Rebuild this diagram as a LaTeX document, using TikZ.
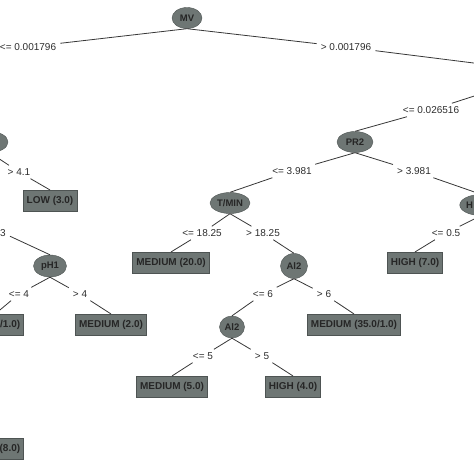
\documentclass[tikz,border=0pt]{standalone}
\usepackage{fontspec}
\setmainfont{Liberation Sans}
\usetikzlibrary{shapes.geometric}
\definecolor{gfill}{RGB}{110,118,116}
\definecolor{gedge}{RGB}{78,84,83}
\definecolor{lnk}{RGB}{55,55,55}
\definecolor{lbltxt}{RGB}{45,45,45}
\tikzset{
  inner/.style={ellipse, fill=gfill, draw=gedge, line width=0.4pt, inner sep=0pt,
    minimum height=21pt, font=\fontsize{9.5}{10}\selectfont\bfseries, text=black!85},
  leaf/.style={rectangle, fill=gfill, draw=gedge, line width=0.6pt, inner xsep=3.5pt,
    inner ysep=0pt, minimum height=21.5pt, font=\fontsize{10}{11}\selectfont\bfseries, text=black!85},
  lbl/.style={inner xsep=4pt, inner ysep=3pt, font=\fontsize{10}{11}\selectfont, text=lbltxt},
  edge/.style={draw=lnk, line width=0.8pt}
}
\begin{document}
\begin{tikzpicture}[x=1pt,y=-1pt]
\useasboundingbox (0,0) rectangle (474,474);
\clip (0,0) rectangle (474,474);
% root
\node[inner, minimum width=30pt] (r) at (187,18) {MV};
\node[lbl] (l1) at (28,47) {<= 0.001796};
\node[lbl] (l2) at (346,47) {> 0.001796};
\coordinate (a) at (-100,75);
\node[inner, minimum width=36pt] (b) at (500,77) {};
\node[lbl] (l3) at (431,110) {<= 0.026516};
\node[inner, minimum width=36pt] (pr2) at (355,142) {PR2};
\node[lbl] (l4) at (292,171) {<= 3.981};
\node[lbl] (l5) at (414,171) {> 3.981};
\node[inner, minimum width=40pt] (tmin) at (230,203) {T/MIN};
\node[inner, minimum width=36pt] (h) at (481,205) {\makebox[30pt][l]{H}};
\node[lbl] (l6) at (202,233) {<= 18.25};
\node[lbl] (l7) at (263,233) {> 18.25};
\node[lbl] (l8) at (446,233) {<= 0.5};
\node[leaf] (m20) at (171,263) {MEDIUM (20.0)};
\node[inner, minimum width=27pt, minimum height=25pt] (al2a) at (294,266) {Al2};
\node[leaf] (h7) at (415,263) {HIGH (7.0)};
\node[lbl] (l9) at (263,294) {<= 6};
\node[lbl] (l10) at (324,294) {> 6};
\node[inner, minimum width=25pt, minimum height=22pt] (al2b) at (232,327) {Al2};
\node[leaf] (m35) at (354,325) {MEDIUM (35.0/1.0)};
\node[lbl] (l11) at (203,356) {<= 5};
\node[lbl] (l12) at (262,356) {> 5};
\node[leaf] (m5) at (172,387) {MEDIUM (5.0)};
\node[leaf] (h4) at (293,387) {HIGH (4.0)};
% left part
\node[inner, minimum width=36pt] (c) at (-10,142) {};
\node[lbl] (l13) at (19,172) {> 4.1};
\node[leaf] (low3) at (50,201) {LOW (3.0)};
\coordinate (d) at (-80,200);
\node[lbl, anchor=east] (l14) at (10,233) {3};
\node[inner, minimum width=33pt, minimum height=22pt] (ph1) at (50,266) {pH1};
\node[lbl] (l15) at (19,294) {<= 4};
\node[lbl] (l16) at (80,294) {> 4};
\node[leaf, anchor=east] (x1) at (24,325) {\makebox[50pt][r]{/1.0)}};
\node[leaf] (m2) at (111,325) {MEDIUM (2.0)};
\node[leaf, anchor=east] (x2) at (24,449) {\makebox[40pt][r]{(8.0)}};
% connectors
\draw[edge] (r.south) -- (l1) (l1) -- (a);
\draw[edge] (r.south) -- (l2) (l2) -- (b.north);
\draw[edge] (b.south) -- (l3) (l3) -- (pr2.north);
\draw[edge] (pr2.south) -- (l4) (l4) -- (tmin.north);
\draw[edge] (pr2.south) -- (l5) (l5) -- (h.north);
\draw[edge] (tmin.south) -- (l6) (l6) -- (m20.north);
\draw[edge] (tmin.south) -- (l7) (l7) -- (al2a.north);
\draw[edge] (h.south) -- (l8) (l8) -- (h7.north);
\draw[edge] (al2a.south) -- (l9) (l9) -- (al2b.north);
\draw[edge] (al2a.south) -- (l10) (l10) -- (m35.north);
\draw[edge] (al2b.south) -- (l11) (l11) -- (m5.north);
\draw[edge] (al2b.south) -- (l12) (l12) -- (h4.north);
\draw[edge] (c.south) -- (l13) (l13) -- (low3.north);
\draw[edge] (d) -- (l14) (l14) -- (ph1.north);
\draw[edge] (ph1.south) -- (l15) (l15) -- (x1.north);
\draw[edge] (ph1.south) -- (l16) (l16) -- (m2.north);
\end{tikzpicture}
\end{document}
